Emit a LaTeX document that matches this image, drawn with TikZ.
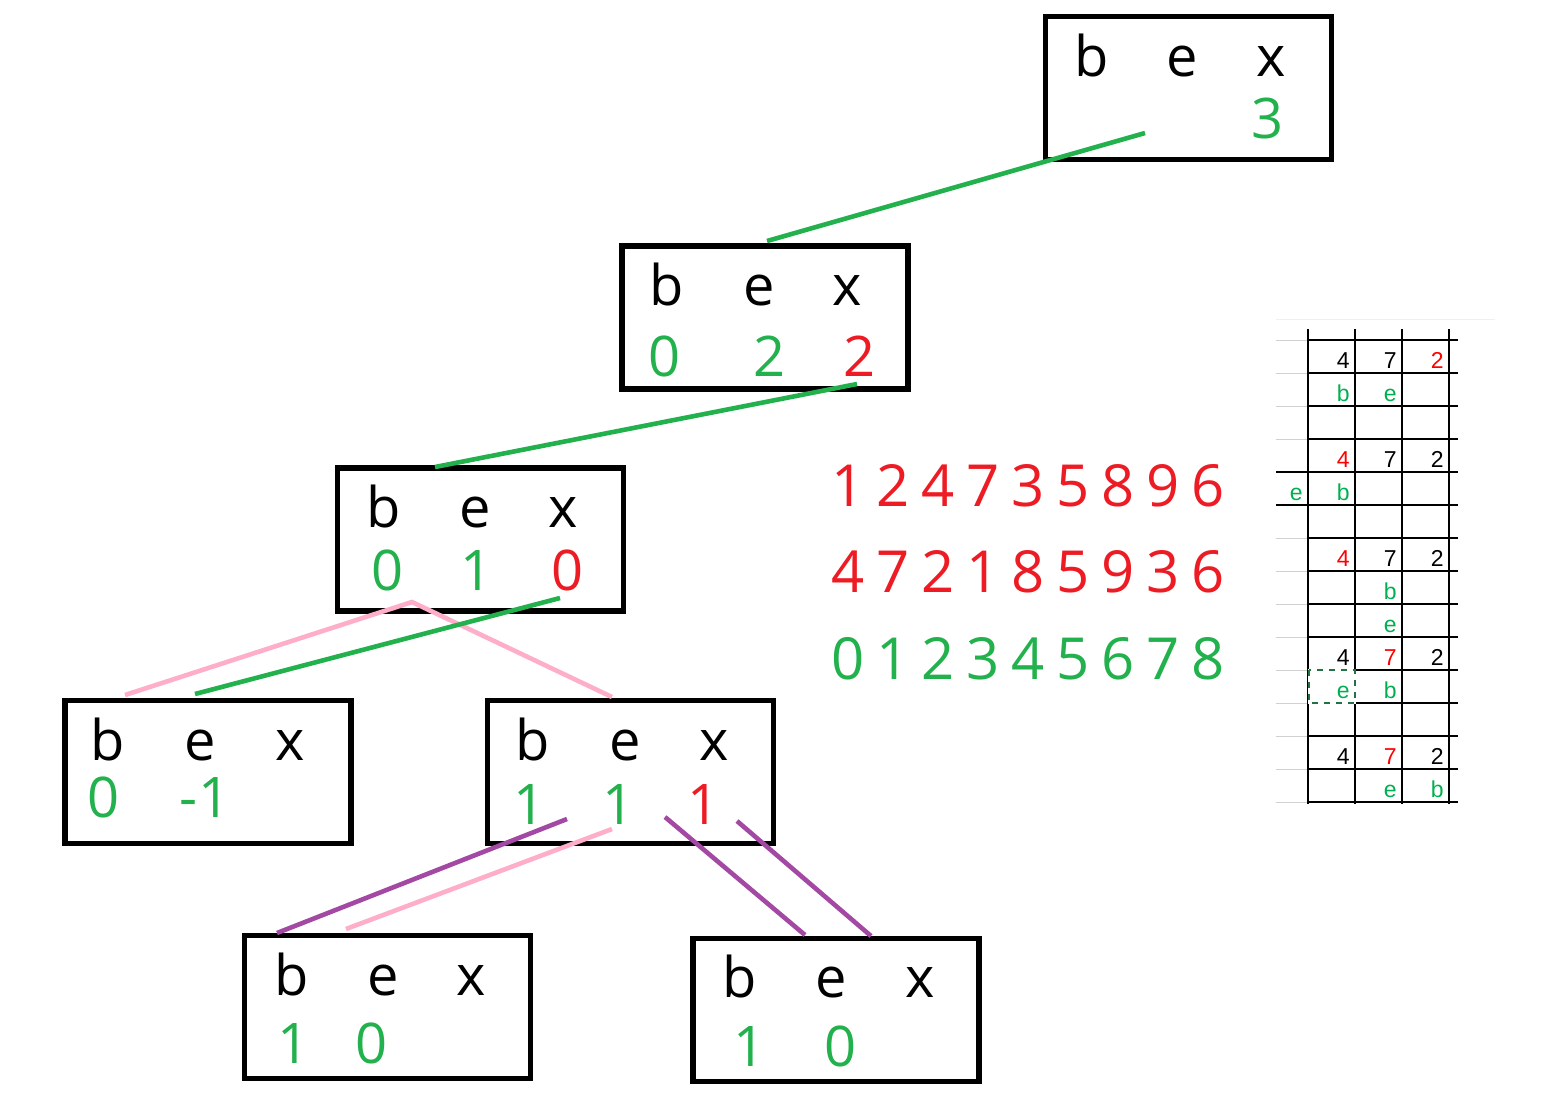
\documentclass[tikz,border=0pt]{standalone}
\usepackage{fontspec}
\setmainfont{Open Sans}
\newfontfamily\cellfont{Liberation Sans}
\usetikzlibrary{positioning,calc}

\definecolor{pgreen}{RGB}{34,177,76}
\definecolor{pred}{RGB}{237,28,36}
\definecolor{ppink}{RGB}{255,174,201}
\definecolor{ppurple}{RGB}{163,73,164}
\definecolor{cgreen}{RGB}{0,176,80}
\definecolor{cred}{RGB}{255,0,0}
\definecolor{xlgreen}{RGB}{33,115,70}

\begin{document}
\begin{tikzpicture}[x=0.5pt,y=-0.5pt,
    state/.style={draw, rectangle, line width=2.7pt, minimum width=143pt, minimum height=71.5pt, inner sep=0pt},
    var/.style={anchor=base, inner sep=0pt, font=\fontsize{28}{32}\selectfont},
    val/.style={var, text=pgreen},
    hot/.style={var, text=pred},
    link/.style={line width=2.3pt},
    seq/.style={anchor=base, inner sep=0pt, font=\fontsize{29}{34}\selectfont},
    cell/.style={anchor=base east, inner sep=0pt, font=\cellfont\fontsize{11.5}{13}\selectfont},
    grid/.style={line width=1.2pt},
    faint/.style={line width=0.5pt, draw=black!18}]

    \useasboundingbox (0,0) rectangle (1544,1116);

    % recursion tree
    \node[state] (A) at (1188.5,88) {};
    \node[var] (Ab) at (1092,76) {b};
    \node[var] (Ae) at (1182,76) {e};
    \node[var] (Ax) at (1271,76) {x};
    \node[val] (Ax3) at (1268,138) {3};

    \node[state] (B) at (765,317.5) {};
    \node[var] (Bb) at (667,305) {b};
    \node[var] (Be) at (759,305) {e};
    \node[var] (Bx) at (847,305) {x};
    \node[val] (Bb0) at (665,376) {0};
    \node[val] (Be2) at (770,376) {2};
    \node[hot] (Bx2) at (860,376) {2};

    \node[state] (C) at (480.5,539.5) {};
    \node[var] (Cb) at (384,527) {b};
    \node[var] (Ce) at (475,527) {e};
    \node[var] (Cx) at (563,527) {x};
    \node[val] (Cb0) at (388,590) {0};
    \node[val] (Ce1) at (477,590) {1};
    \node[hot] (Cx0) at (568,590) {0};

    \node[state] (D) at (208,772) {};
    \node[var] (Db) at (108,760) {b};
    \node[var] (De) at (200,760) {e};
    \node[var] (Dx) at (290,760) {x};
    \node[val] (Db0) at (104,817) {0};
    \node[val] (De1) at (205,817) {-1};

    \node[state] (E) at (630.5,772) {};
    \node[var] (Eb) at (533,760) {b};
    \node[var] (Ee) at (625,760) {e};
    \node[var] (Ex) at (714,760) {x};
    \node[val] (Eb1) at (530,824) {1};
    \node[val] (Ee1) at (619,824) {1};
    \node[hot] (Ex1) at (704,824) {1};

    \node[state] (F) at (387.5,1007) {};
    \node[var] (Fb) at (292,995) {b};
    \node[var] (Fe) at (383,995) {e};
    \node[var] (Fx) at (471,995) {x};
    \node[val] (Fb1) at (294,1063) {1};
    \node[val] (Fe0) at (372,1063) {0};

    \node[state] (G) at (836,1010) {};
    \node[var] (Gb) at (740,997) {b};
    \node[var] (Ge) at (831,997) {e};
    \node[var] (Gx) at (920,997) {x};
    \node[val] (Gb1) at (750,1066) {1};
    \node[val] (Ge0) at (841,1066) {0};

    % link ends
    \coordinate (a-out) at (1145,133);
    \coordinate (b-in) at (767,241);
    \coordinate (b-out) at (857,384);
    \coordinate (c-in) at (435,467);
    \coordinate (c-out) at (560,598);
    \coordinate (c-mid) at (412,602);
    \coordinate (d-in) at (195,694);
    \coordinate (d-pink) at (125,695);
    \coordinate (e-pink) at (612,697);
    \coordinate (e-out1) at (567,819);
    \coordinate (e-out2) at (612,829);
    \coordinate (e-out3) at (665,817);
    \coordinate (e-out4) at (737,821);
    \coordinate (f-in1) at (277,933);
    \coordinate (f-in2) at (346,929);
    \coordinate (g-in1) at (805,935);
    \coordinate (g-in2) at (871,936);

    \draw[link, ppink] (d-pink) -- (c-mid) -- (e-pink);
    \draw[link, pgreen] (a-out) -- (b-in);
    \draw[link, pgreen] (b-out) -- (c-in);
    \draw[link, pgreen] (c-out) -- (d-in);
    \draw[link, ppurple] (e-out1) -- (f-in1);
    \draw[link, ppink] (e-out2) -- (f-in2);
    \draw[link, ppurple] (e-out3) -- (g-in1);
    \draw[link, ppurple] (e-out4) -- (g-in2);

    % sequences
    \foreach \d [count=\i from 0] in {1,2,4,7,3,5,8,9,6}
        \node[seq, text=pred] (pre\i) at (848+45*\i,506) {\d};
    \foreach \d [count=\i from 0] in {4,7,2,1,8,5,9,3,6}
        \node[seq, text=pred] (in\i) at (848+45*\i,592) {\d};
    \foreach \d [count=\i from 0] in {0,1,2,3,4,5,6,7,8}
        \node[seq, text=pgreen] (idx\i) at (848+45*\i,679) {\d};

    % sheet
    \draw[line width=0.5pt, black!6] (1276,319) -- (1495,319);
    \foreach \r in {0,...,14} {
        \draw[faint] (1276,340+33*\r) -- (1308,340+33*\r);
        \draw[grid] (1308,340+33*\r) -- (1458,340+33*\r);
    }
    \draw[grid] (1276,472) -- (1308,472);
    \draw[grid] (1276,505) -- (1308,505);
    \foreach \c in {1308,1355,1402,1449}
        \draw[grid] (\c,329) -- (\c,804);
    \draw[line width=1.2pt, white] (1309,670) rectangle (1355,703);
    \draw[line width=1.2pt, xlgreen, dashed] (1309,670) rectangle (1355,703);

    \node[cell] (c01) at (1350,368) {4};
    \node[cell] (c02) at (1397,368) {7};
    \node[cell, text=cred] (c03) at (1444,368) {2};
    \node[cell, text=cgreen] (c11) at (1350,401) {b};
    \node[cell, text=cgreen] (c12) at (1397,401) {e};

    \node[cell, text=cred] (c31) at (1350,467) {4};
    \node[cell] (c32) at (1397,467) {7};
    \node[cell] (c33) at (1444,467) {2};
    \node[cell, text=cgreen] (c40) at (1303,500) {e};
    \node[cell, text=cgreen] (c41) at (1350,500) {b};

    \node[cell, text=cred] (c61) at (1350,566) {4};
    \node[cell] (c62) at (1397,566) {7};
    \node[cell] (c63) at (1444,566) {2};
    \node[cell, text=cgreen] (c72) at (1397,599) {b};
    \node[cell, text=cgreen] (c82) at (1397,632) {e};

    \node[cell] (c91) at (1350,665) {4};
    \node[cell, text=cred] (c92) at (1397,665) {7};
    \node[cell] (c93) at (1444,665) {2};
    \node[cell, text=cgreen] (c101) at (1350,698) {e};
    \node[cell, text=cgreen] (c102) at (1397,698) {b};

    \node[cell] (c121) at (1350,764) {4};
    \node[cell, text=cred] (c122) at (1397,764) {7};
    \node[cell] (c123) at (1444,764) {2};
    \node[cell, text=cgreen] (c132) at (1397,797) {e};
    \node[cell, text=cgreen] (c133) at (1444,797) {b};
\end{tikzpicture}
\end{document}
